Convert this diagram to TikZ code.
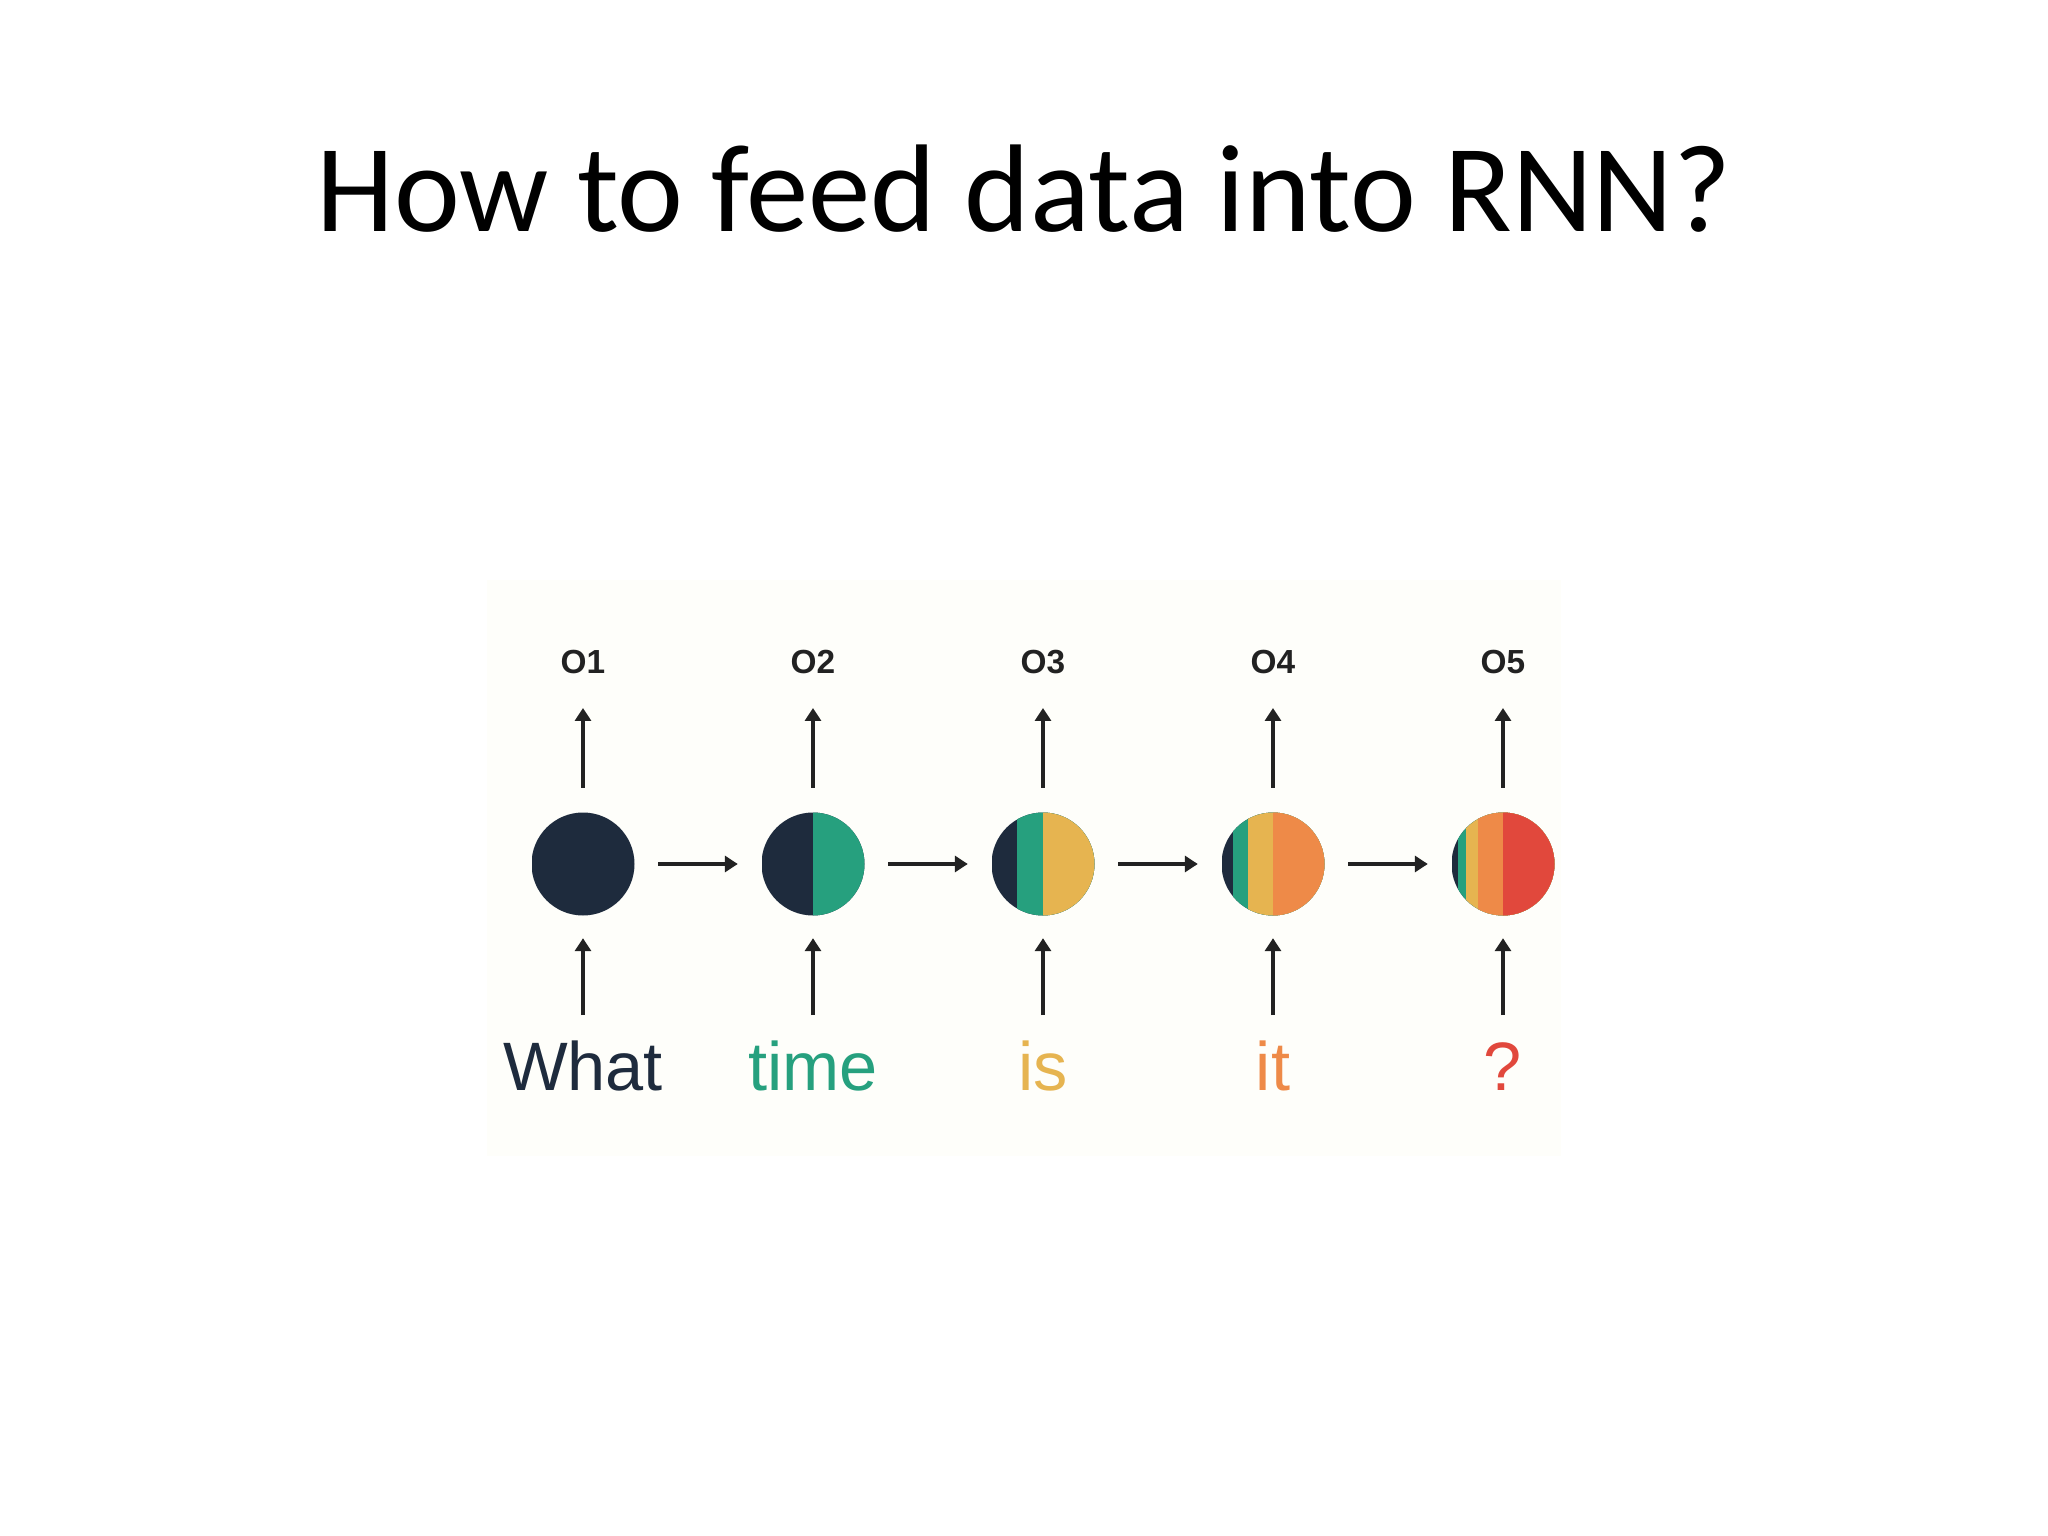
\documentclass[tikz,border=0pt]{standalone}
\usepackage{fontspec}
\setmainfont{Carlito}
\newfontfamily\labelfont{Liberation Sans}
\usetikzlibrary{arrows.meta}

\definecolor{navy}{HTML}{1E2B3D}
\definecolor{teal}{HTML}{26A07E}
\definecolor{sand}{HTML}{E6B450}
\definecolor{carrot}{HTML}{EE8A48}
\definecolor{tomato}{HTML}{E1483C}
\definecolor{ink}{HTML}{222222}
\definecolor{paper}{RGB}{254,254,250}

\tikzset{
    cell/.style={circle, minimum size=1.03cm, inner sep=0pt},
    flow/.style={draw=ink, line width=1.1pt, -{Triangle[length=1.3mm,width=1.6mm]}},
    outlbl/.style={font=\labelfont\bfseries\fontsize{9.5}{11}\selectfont, text=ink},
    wordlbl/.style={font=\labelfont\fontsize{19.5}{22}\selectfont, anchor=base}
}

\begin{document}
\begin{tikzpicture}
        \useasboundingbox (0,0) rectangle (20.48,-15.36);
        \fill[white] (0,0) rectangle (20.48,-15.36);
        %% title
        \node[font=\fontsize{35.5}{40}\selectfont, anchor=base] (title) at (10.24,-2.32) {How to feed data into RNN?};
        %% picture background
        \fill[paper] (4.87,-5.80) rectangle (15.61,-11.56);
        %% cells
        \foreach \x [count=\i] in {5.83,8.13,10.43,12.73,15.03}
            \node[cell] (c\i) at (\x,-8.64) {};
        %% stripes inside the cells
        \foreach \c/\a/\col in {1/-1/navy,
                                 2/-1/navy, 2/0/teal,
                                 3/-1/navy, 3/-0.5/teal, 3/0/sand,
                                 4/-1/navy, 4/-0.78/teal, 4/-0.48/sand, 4/0/carrot,
                                 5/-1/navy, 5/-0.88/teal, 5/-0.72/sand, 5/-0.49/carrot, 5/0/tomato}
        {
            \begin{scope}
                \clip (c\c.center) circle (0.515);
                \fill[\col] ([xshift=\a*0.515cm, yshift=-0.6cm]c\c.center) rectangle ([xshift=0.6cm, yshift=0.6cm]c\c.center);
            \end{scope}
        }
        %% outputs
        \foreach \x [count=\i] in {5.83,8.13,10.43,12.73,15.03}
            \node[outlbl] (o\i) at (\x,-6.62) {O\i};
        %% words
        \node[wordlbl, text=navy] (w1) at (5.83,-10.90) {What};
        \node[wordlbl, text=teal] (w2) at (8.13,-10.90) {time};
        \node[wordlbl, text=sand] (w3) at (10.43,-10.90) {is};
        \node[wordlbl, text=carrot] (w4) at (12.73,-10.90) {it};
        \node[wordlbl, text=tomato] (w5) at (15.03,-10.90) {?};
        %% arrows
        \foreach \i in {1,...,5}
        {
            \draw[flow] ([yshift=0.24cm]c\i.north) -- ([yshift=-0.46cm]o\i.center);
            \draw[flow] ([yshift=0.75cm]w\i.base) -- ([yshift=-0.22cm]c\i.south);
        }
        \foreach \i/\j in {1/2,2/3,3/4,4/5}
            \draw[flow] ([xshift=0.23cm]c\i.east) -- ([xshift=-0.23cm]c\j.west);
    \end{tikzpicture}
\end{document}
